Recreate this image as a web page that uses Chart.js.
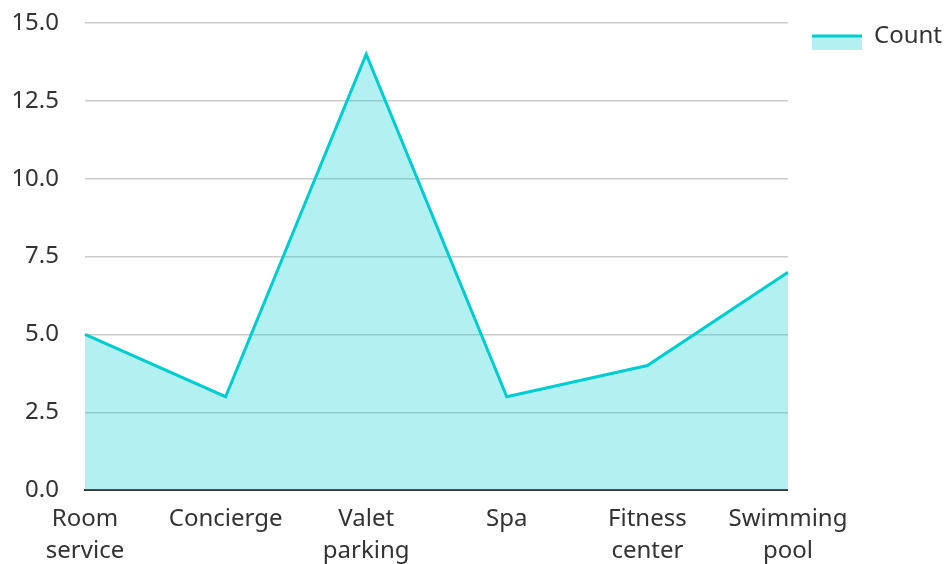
<!DOCTYPE html>
<html>
<head>
<meta charset="utf-8">
<script src="https://cdn.jsdelivr.net/npm/chart.js@4"></script>
<style>
  html, body { margin: 0; padding: 0; background: #fff; overflow: hidden; }
</style>
</head>
<body>
<canvas id="chart" width="944" height="580"></canvas>
<script>
  const categories = [['Room', 'service'], 'Concierge', ['Valet', 'parking'], 'Spa', ['Fitness', 'center'], ['Swimming', 'pool']];
  const countValues = [5, 3, 14, 3, 4, 7];
  const yTicks = [0, 2.5, 5, 7.5, 10, 12.5, 15];

  const lineColor = '#00ced1';
  const fillColor = 'rgba(0, 206, 209, 0.3)';

  // legend swatch: light fill with the line across the top, sits a bit below the text centre
  function makeSwatch() {
    const c = document.createElement('canvas');
    c.width = 50;
    c.height = 27;
    const g = c.getContext('2d');
    g.fillStyle = fillColor;
    g.fillRect(0, 12, 50, 15);
    g.fillStyle = lineColor;
    g.fillRect(0, 12, 50, 3);
    return c;
  }
  const swatch = makeSwatch();

  Chart.defaults.font.family = '"Noto Sans", sans-serif';
  Chart.defaults.font.size = 24;
  Chart.defaults.color = '#333';

  new Chart(document.getElementById('chart').getContext('2d'), {
    type: 'line',
    data: {
      labels: categories,
      datasets: [{
        label: 'Count',
        data: countValues,
        borderColor: lineColor,
        backgroundColor: fillColor,
        borderWidth: 3,
        fill: 'origin',
        pointRadius: 0,
        tension: 0,
        pointStyle: swatch
      }]
    },
    options: {
      responsive: false,
      animation: false,
      layout: { padding: { top: 0, right: -8, left: 0, bottom: 0 } },
      plugins: {
        legend: {
          position: 'right',
          align: 'start',
          labels: {
            usePointStyle: true,
            pointStyleWidth: 50,
            boxHeight: 24,
            padding: 24,
            font: { size: 24 }
          }
        },
        tooltip: { enabled: false }
      },
      scales: {
        x: {
          offset: false,
          grid: { display: false, drawTicks: false },
          border: { display: true, color: '#333', width: 2 },
          ticks: { maxRotation: 0, autoSkip: false, padding: 13, font: { size: 24, lineHeight: 1.33 } }
        },
        y: {
          min: 0,
          max: 15,
          afterBuildTicks: (axis) => { axis.ticks = yTicks.map(v => ({ value: v })); },
          afterFit: (axis) => {
            axis.width = 85;
            axis.paddingTop = 23;
          },
          grid: { color: '#ccc', lineWidth: 1.5, drawTicks: false },
          border: { display: false },
          ticks: {
            padding: 26,
            callback: (v) => Number(v).toFixed(1)
          }
        }
      }
    }
  });
</script>
</body>
</html>
